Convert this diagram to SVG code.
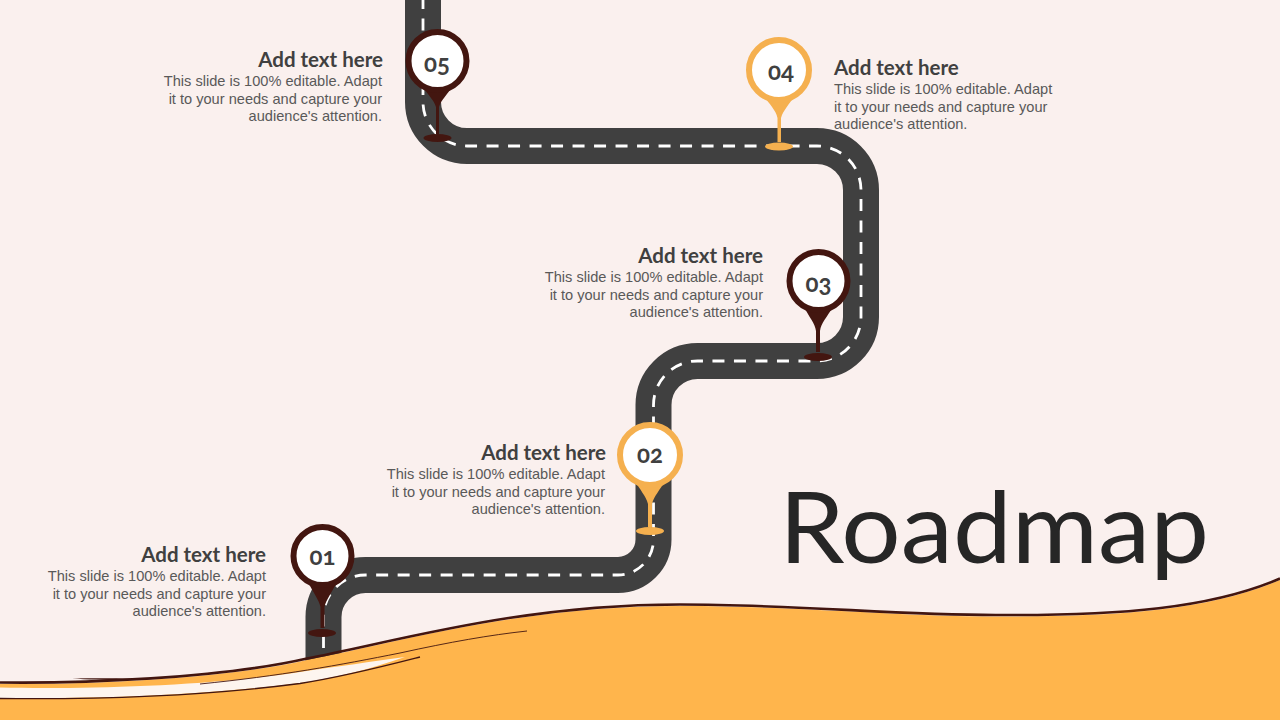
<svg xmlns="http://www.w3.org/2000/svg" width="1280" height="720" viewBox="0 0 1280 720">
<style>
.h{font-family:"Lato","Open Sans",sans-serif;font-weight:700;font-size:20.500px;fill:#404040}
.b{font-family:"Liberation Sans",Arial,sans-serif;font-size:14.600px;fill:#595959}
.n{font-family:"Lato","Open Sans",sans-serif;font-weight:700;font-size:24px;fill:#404040;text-anchor:middle;font-feature-settings:"onum"}
.e{text-anchor:end}
.road{fill:none;stroke:#404040;stroke-width:36}
.dash{fill:none;stroke:#fff;stroke-width:2.800;stroke-dasharray:12 9.500}
.dk{fill:#431610}
.or{fill:#F5B04F}
.face{fill:#fff;stroke-width:6}
</style>
<rect width="1280" height="720" fill="#FAF0EE"/>
<g id="connectors">
<path class="road" d="M323.500 670V617A42 42 0 0 1 365.500 575H618A35.500 35.500 0 0 0 653.500 539.500V405A44 44 0 0 1 697.500 361H817A44 44 0 0 0 861 317V190A44 44 0 0 0 817 146H467A44 44 0 0 1 423 102V0"/>
<path class="dash" d="M323.500 648V617A42 42 0 0 1 365.500 575H618A35.500 35.500 0 0 0 653.500 539.500V405A44 44 0 0 1 697.500 361H817A44 44 0 0 0 861 317V190A44 44 0 0 0 817 146H467A44 44 0 0 1 423 102V0"/>
</g>
<g id="ground">
<path d="M0 684C80 685 220 680 307 660C400 642 520 606 680 606C800 606 900 617 1000 616.500C1120 617 1210 610 1280 580V720H0Z" fill="#FFB54C"/>
<path d="M0 682.500C80 683.500 220 678.500 307 658.500C400 640.500 520 604.500 680 604.500C800 604.500 900 615.500 1000 615C1120 615.500 1210 608.500 1280 578.500" fill="none" stroke="#431610" stroke-width="2.600"/>
<path d="M72 678.500C100 678 130 678 152 679.500C125 680.500 95 680 72 678.500Z" fill="#431610"/>
<path d="M0 687.500C80 689 200 687 300 672C340 666 370 662 405 657C370 669 340 677 300 683C200 696 90 699 0 698Z" fill="#FDF5EF"/>
<path d="M0 698.500C90 699.500 200 696.500 300 683.500C345 676.500 385 666 420 657" fill="none" stroke="#431610" stroke-width="1.300"/>
<path d="M200 684C280 676 340 665 400 653C450 642 490 635 527 631" fill="none" stroke="#431610" stroke-width="0.900"/>
</g>
<g id="node-01">
<path class="dk" d="M308 582C313 592 319 600 320.500 607V628H324.500V607C326 600 332 592 337 582Z"/>
<ellipse class="dk" cx="322" cy="633" rx="14" ry="4"/>
<circle class="face" cx="322.500" cy="556" r="29" stroke="#431610"/>
<text class="n" x="322.500" y="565">01</text>
<text class="h e" x="266" y="562">Add text here</text>
<text class="b e" x="266" y="581">This slide is 100% editable.  Adapt</text>
<text class="b e" x="266" y="599">it to your needs and capture your</text>
<text class="b e" x="266" y="616">audience's attention.</text>
</g>
<g id="node-02">
<path class="or" d="M635 481C640 490 646 496 648 504V527H652V504C654 496 660 490 665 481Z"/>
<ellipse class="or" cx="650" cy="531" rx="14" ry="4"/>
<circle class="face" cx="650" cy="455" r="30" stroke="#F5B04F"/>
<text class="n" x="650" y="463">02</text>
<text class="h e" x="606" y="460">Add text here</text>
<text class="b e" x="605" y="479">This slide is 100% editable.  Adapt</text>
<text class="b e" x="605" y="497">it to your needs and capture your</text>
<text class="b e" x="605" y="514">audience's attention.</text>
</g>
<g id="node-03">
<path class="dk" d="M804 307C809 317 815 323 816 331V352H820V331C821 323 827 317 833 307Z"/>
<ellipse class="dk" cx="818" cy="357" rx="14" ry="4"/>
<circle class="face" cx="818.500" cy="281" r="29" stroke="#431610"/>
<text class="n" x="818.500" y="292">03</text>
<text class="h e" x="763" y="263">Add text here</text>
<text class="b e" x="763" y="282">This slide is 100% editable.  Adapt</text>
<text class="b e" x="763" y="300">it to your needs and capture your</text>
<text class="b e" x="763" y="317">audience's attention.</text>
</g>
<g id="node-04">
<path class="or" d="M764 96C769 104 776 110 777.500 118V142H781V118C783 110 790 104 794 96Z"/>
<ellipse class="or" cx="779" cy="146.500" rx="14" ry="4"/>
<circle class="face" cx="779" cy="70" r="30" stroke="#F5B04F"/>
<text class="n" x="781" y="80">04</text>
<text class="h" x="834" y="75">Add text here</text>
<text class="b" x="834" y="94">This slide is 100% editable.  Adapt</text>
<text class="b" x="834" y="112">it to your needs and capture your</text>
<text class="b" x="834" y="129">audience's attention.</text>
</g>
<g id="node-05">
<path class="dk" d="M423 87C428 95 434 100 436 107V134H439V107C441 100 447 95 452 87Z"/>
<ellipse class="dk" cx="437.500" cy="138" rx="14" ry="4"/>
<circle class="face" cx="437.500" cy="61" r="29" stroke="#431610"/>
<text class="n" x="437" y="72">05</text>
<text class="h e" x="383" y="67">Add text here</text>
<text class="b e" x="382" y="86">This slide is 100% editable.  Adapt</text>
<text class="b e" x="382" y="104">it to your needs and capture your</text>
<text class="b e" x="382" y="121">audience's attention.</text>
</g>
<text id="title" x="779" y="563" font-family="Lato,'Open Sans',sans-serif" font-size="98" textLength="430" lengthAdjust="spacingAndGlyphs" fill="#262626">Roadmap</text>
</svg>
